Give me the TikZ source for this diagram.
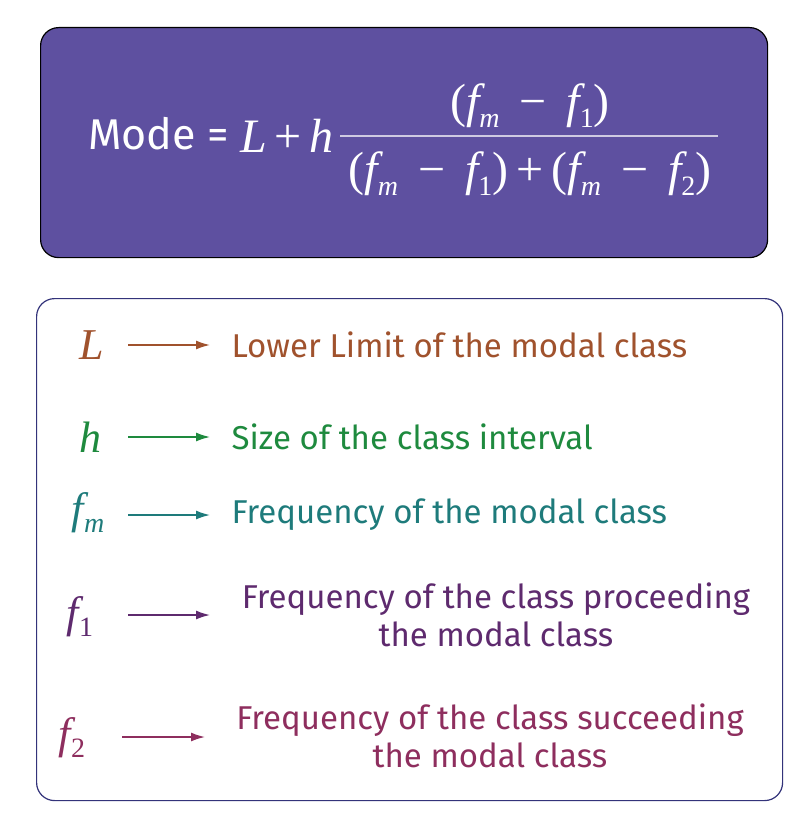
\documentclass[tikz,border=0pt]{standalone}
\usepackage{fontspec}
\setmainfont{Liberation Serif}
\newfontfamily\lab{Fira Sans}
\newcommand\sbx[1]{\raisebox{-0.45ex}{\fontsize{28}{28}\selectfont #1}}
\newcommand\fmm{{\itshape f}\sbx{\itshape m}}
\newcommand\fone{{\itshape f}\sbx{1}}
\newcommand\ftwo{{\itshape f}\sbx{2}}
\definecolor{boxp}{HTML}{5E50A0}
\definecolor{cL}{HTML}{A0522D}
\definecolor{cH}{HTML}{1E8A3E}
\definecolor{cM}{HTML}{1E7B7B}
\definecolor{cA}{HTML}{5E2A6E}
\definecolor{cB}{HTML}{8E2E5E}
\tikzset{arr/.style={-{Latex[length=14pt,width=9pt]},line width=1.5pt},
 sym/.style={font=\fontsize{44}{44}\selectfont},
 fr/.style={font=\fontsize{48}{48}\selectfont,inner sep=0pt},
 desc/.style={font=\lab\fontsize{33}{38}\selectfont,align=center}}
\usetikzlibrary{arrows.meta}
\begin{document}
\begin{tikzpicture}[x=1pt,y=-1pt]
\useasboundingbox (0,0) rectangle (809,826);
\node[draw=black,line width=1.2pt,fill=boxp,rounded corners=18,minimum width=727,minimum height=230,anchor=north west] (top) at (40,27) {};
\node[text=white,font=\lab\fontsize{43}{43}\selectfont,anchor=west,inner sep=0pt] (mode) at (88,134) {Mode =};
\node[text=white,fr,anchor=west] (lh) at (240,136) {{\itshape L}\,+\,{\itshape h}};
\node[text=white,fr] (num) at (530,106) {(\fmm\ \,−\, \fone)};
\node[text=white,fr] (den) at (530,174) {(\fmm\ \,−\, \fone)\,+\,(\fmm\ \,−\, \ftwo)};
\draw[white!70!boxp,line width=1.2pt] (340,136) coordinate (fa) -- (718,136) coordinate (fb);
\node[draw=blue!35!black!80,line width=1.2pt,rounded corners=18,minimum width=746,minimum height=502,anchor=north west] (bot) at (36,298) {};
\node[sym,text=cL] (sL) at (92,345) {\itshape L};
\coordinate (aL) at (210,345);
\draw[arr,cL] (128,345) -- (aL);
\node[desc,text=cL,anchor=west] (tL) at (228,345) {Lower Limit of the modal class};
\node[sym,text=cH] (sH) at (90,437) {\itshape h};
\coordinate (aH) at (210,437);
\draw[arr,cH] (128,437) -- (aH);
\node[desc,text=cH,anchor=west] (tH) at (228,437) {Size of the class interval};
\node[sym,text=cM] (sM) at (88,513) {\fmm};
\coordinate (aM) at (210,515);
\draw[arr,cM] (128,515) -- (aM);
\node[desc,text=cM,anchor=west] (tM) at (228,515) {Frequency of the modal class};
\node[sym,text=cA] (sA) at (80,617) {\fone};
\coordinate (aA) at (210,615);
\draw[arr,cA] (128,615) -- (aA);
\node[desc,text=cA] (tA) at (496,615) {Frequency of the class proceeding\\the modal class};
\node[sym,text=cB] (sB) at (72,738) {\ftwo};
\coordinate (aB) at (205,737);
\draw[arr,cB] (122,737) -- (aB);
\node[desc,text=cB] (tB) at (490,736) {Frequency of the class succeeding\\the modal class};
\end{tikzpicture}
\end{document}
